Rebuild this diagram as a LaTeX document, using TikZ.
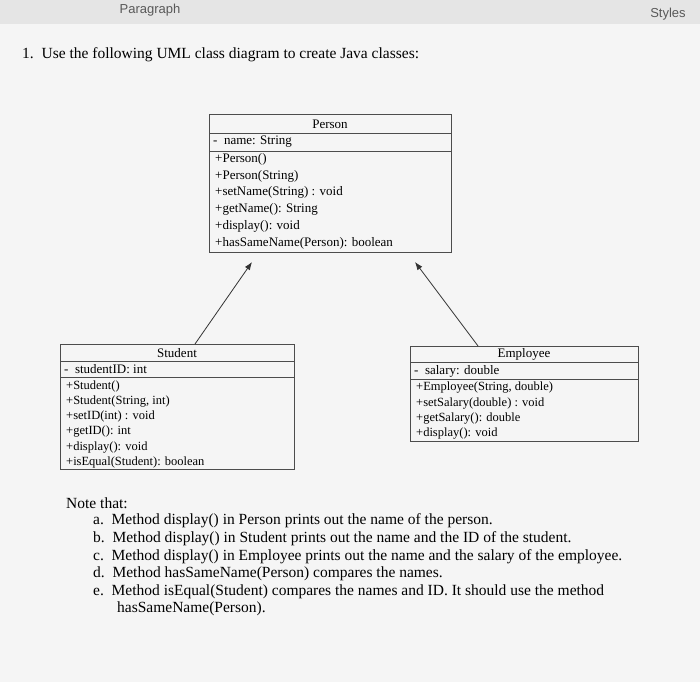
\documentclass[tikz,border=0pt]{standalone}
\usepackage{fontspec}
\usetikzlibrary{arrows.meta}
\setmainfont{Liberation Serif}
\newfontfamily\hdr{Liberation Sans}
\begin{document}
\begin{tikzpicture}[x=1pt,y=-1pt,
  cls/.style={draw=black!70,line width=0.7pt},
  uml/.style={font=\fontsize{13}{16.8}\selectfont,anchor=west,inner sep=0pt},
  umlb/.style={font=\fontsize{12.5}{15.2}\selectfont,anchor=north west,inner sep=0pt,align=left},
  ttl/.style={font=\fontsize{13}{14}\selectfont,inner sep=0pt},
  txt/.style={font=\fontsize{15.5}{17}\selectfont,anchor=west,inner sep=0pt},
  inh/.style={-{Latex[length=8pt,width=6pt]},black!80,line width=0.8pt}]
\useasboundingbox (0,0) rectangle (700,682);
\fill[black!4] (0,0) rectangle (700,682);
\fill[black!10] (0,0) rectangle (700,24);
\node[font=\hdr\fontsize{13}{15}\selectfont,text=black!65] (hp) at (150,10) {Paragraph};
\node[font=\hdr\fontsize{13}{15}\selectfont,text=black!65] (hs) at (668,14) {Styles};
\node[txt] (q) at (22,55) {1.\ \ Use the following UML class diagram to create Java classes:};
% Person
\draw[cls] (209,114) rectangle (451,252);
\draw[cls] (209,133) -- (451,133) (209,151) -- (451,151);
\node[ttl] (pt) at (330,124) {Person};
\node[uml] at (213,142) {-\ \ name: String};
\node[umlb,font=\fontsize{13}{16.8}\selectfont] at (215,153) {+Person()\\+Person(String)\\+setName(String) : void\\+getName(): String\\+display(): void\\+hasSameName(Person): boolean};
\coordinate (p1) at (252,262);
\coordinate (p2) at (415,262);
% Student
\draw[cls] (60,344) rectangle (294,469);
\draw[cls] (60,361) -- (294,361) (60,377) -- (294,377);
\node[ttl] (st) at (177,353) {Student};
\node[uml] at (64,369) {-\ \ studentID: int};
\node[umlb] at (66,380.5) {+Student()\\+Student(String, int)\\+setID(int) : void\\+getID(): int\\+display(): void\\+isEqual(Student): boolean};
\coordinate (s1) at (195,344);
% Employee
\draw[cls] (410,346) rectangle (638,441);
\draw[cls] (410,362) -- (638,362) (410,379) -- (638,379);
\node[ttl] (et) at (524,354) {Employee};
\node[uml] at (414,371) {-\ \ salary: double};
\node[umlb] at (416,382) {+Employee(String, double)\\+setSalary(double) : void\\+getSalary(): double\\+display(): void};
\coordinate (e1) at (478,346);
\draw[inh] (s1) -- (p1);
\draw[inh] (e1) -- (p2);
% notes
\node[txt] (n0) at (66,503) {Note that:};
\node[txt] at (93,521) {a.\ \ Method display() in Person prints out the name of the person.};
\node[txt] at (93,539) {b.\ \ Method display() in Student prints out the name and the ID of the student.};
\node[txt] at (93,557) {c.\ \ Method display() in Employee prints out the name and the salary of the employee.};
\node[txt] at (93,574) {d.\ \ Method hasSameName(Person) compares the names.};
\node[txt] at (93,592) {e.\ \ Method isEqual(Student) compares the names and ID. It should use the method};
\node[txt] at (117,609) {hasSameName(Person).};
\end{tikzpicture}
\end{document}
